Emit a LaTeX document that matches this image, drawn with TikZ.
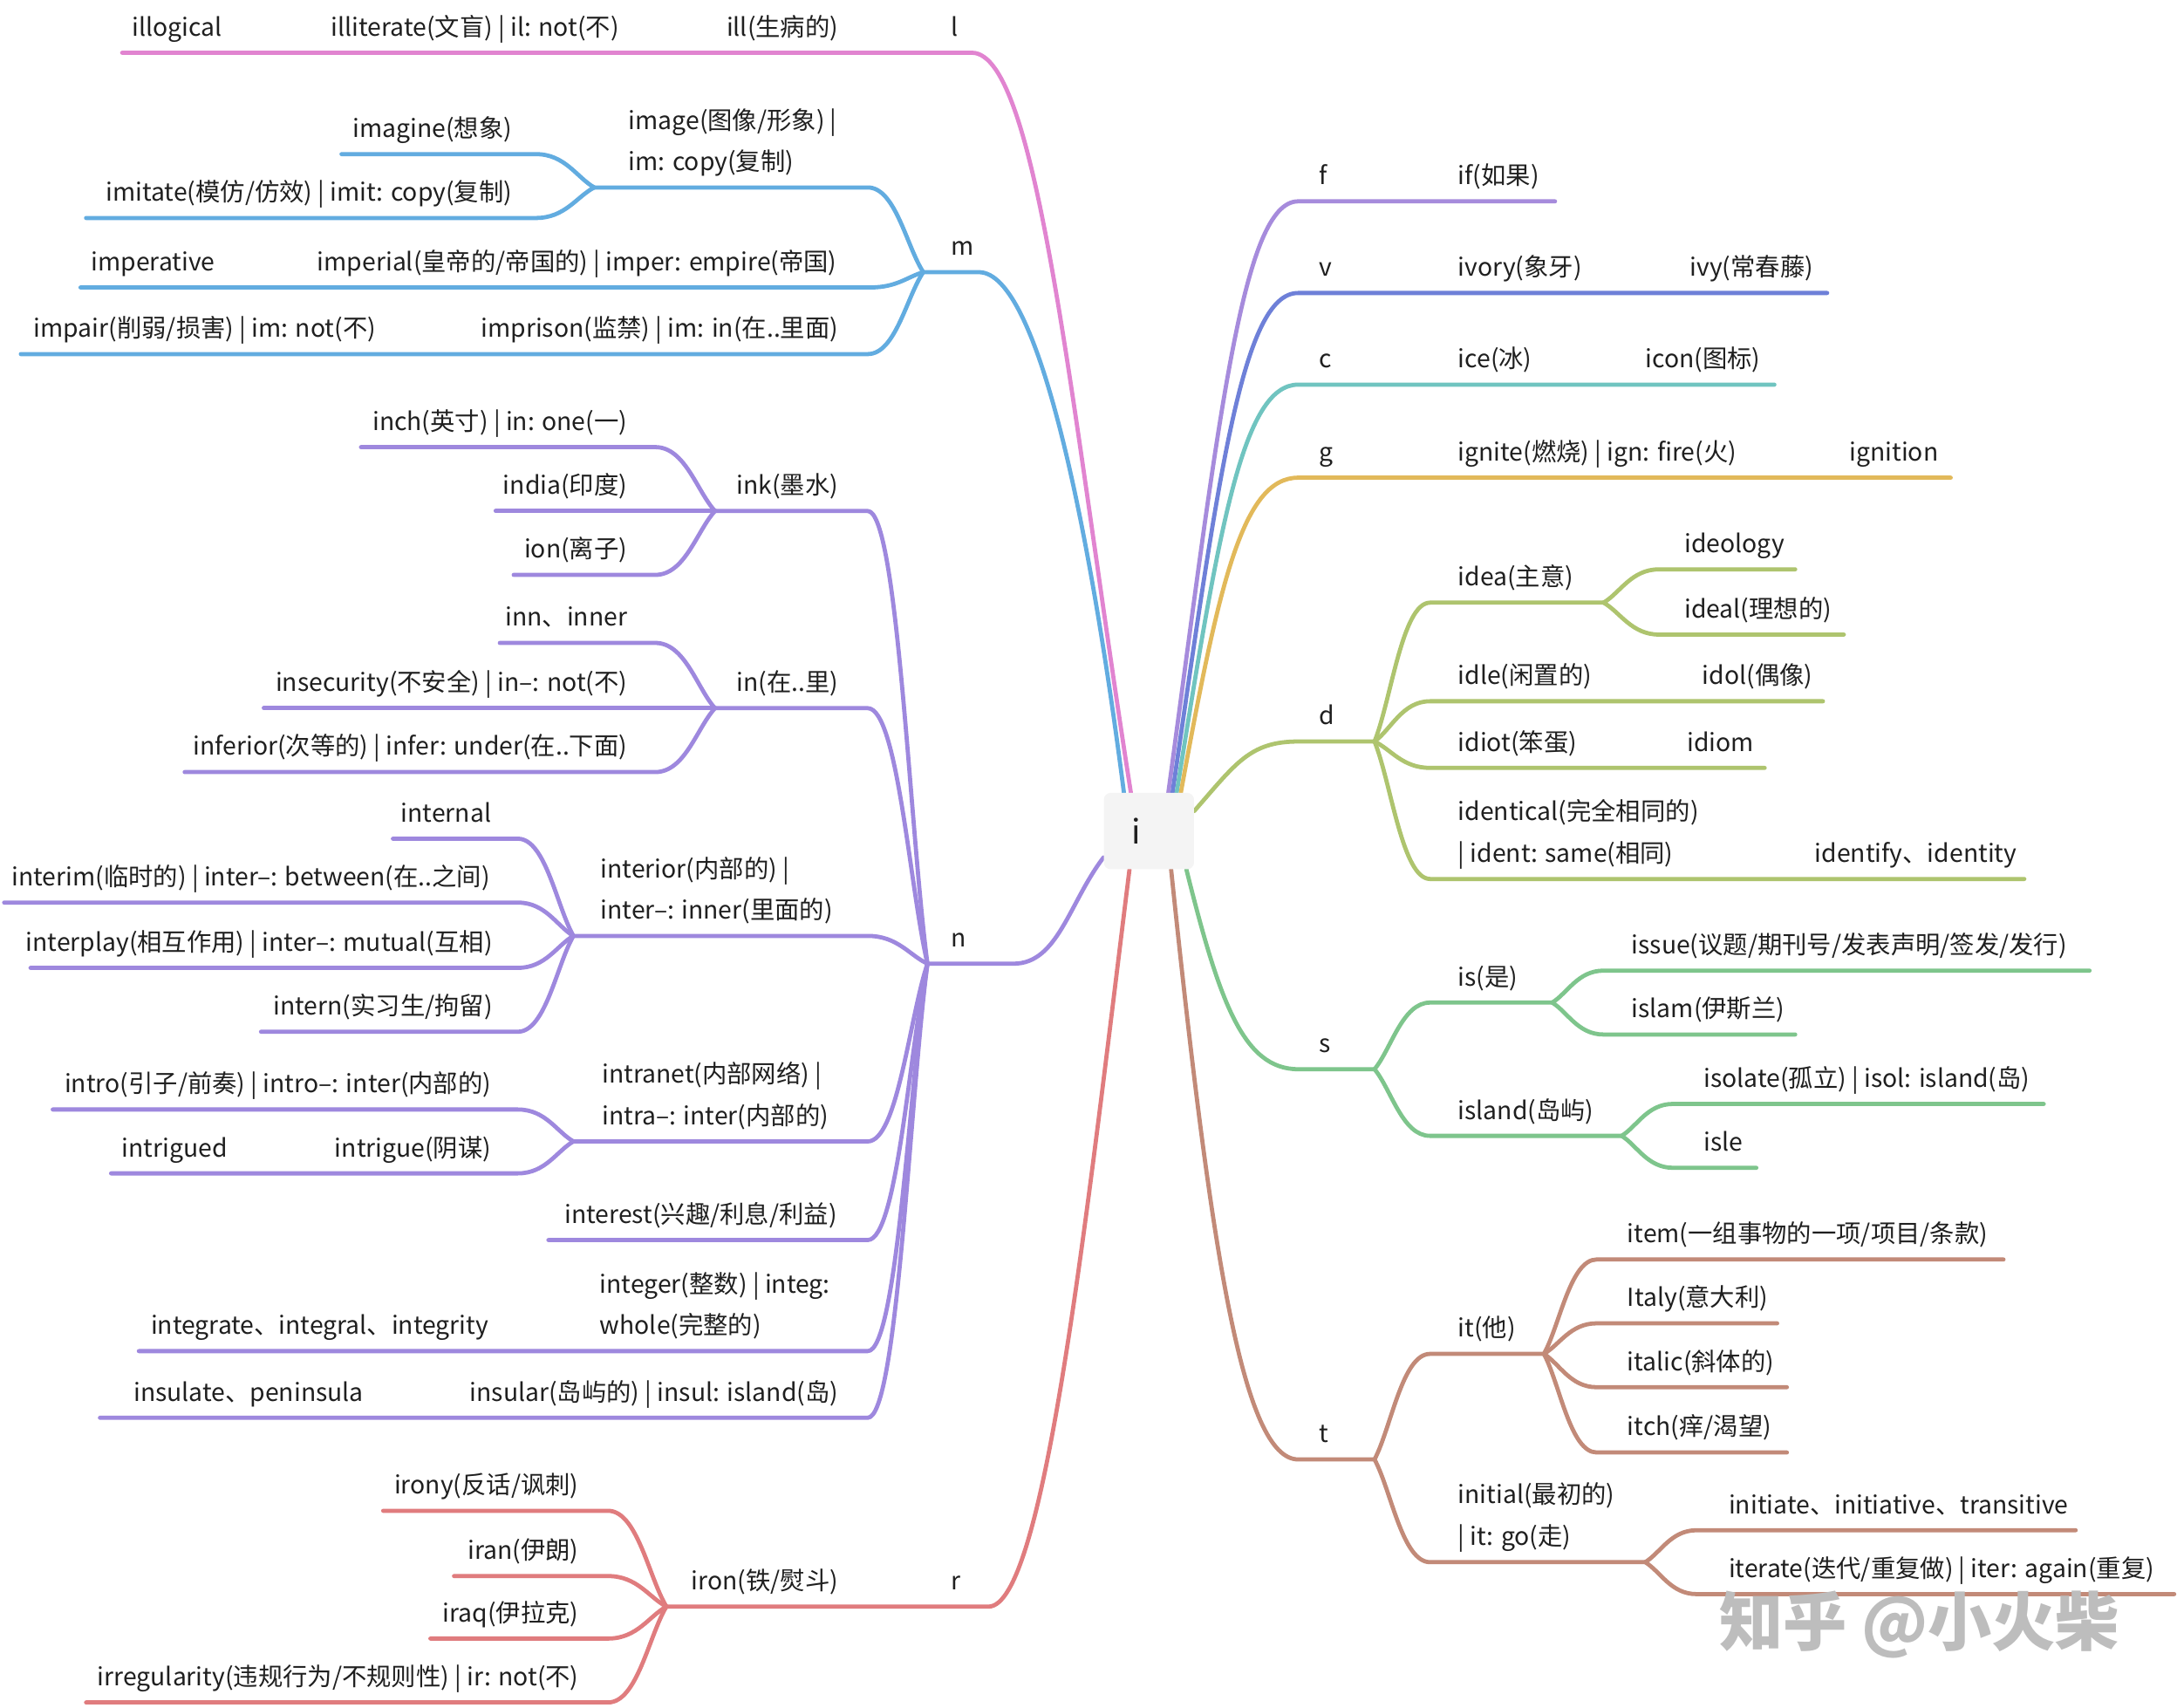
\documentclass[tikz,border=0pt]{standalone}
\usepackage{fontspec}
\setmainfont{Noto Sans CJK SC}
\usetikzlibrary{calc,backgrounds}
\definecolor{cL}{HTML}{E184D0}
\definecolor{cM}{HTML}{62ACE0}
\definecolor{cN}{HTML}{9E88DE}
\definecolor{cR}{HTML}{E07C7E}
\definecolor{cF}{HTML}{A68BDC}
\definecolor{cV}{HTML}{6E80D8}
\definecolor{cC}{HTML}{70C4C0}
\definecolor{cG}{HTML}{E2B95A}
\definecolor{cD}{HTML}{AEC46E}
\definecolor{cS}{HTML}{7EC58C}
\definecolor{cT}{HTML}{C28A78}
\definecolor{boxc}{HTML}{F4F4F4}
\definecolor{txtc}{HTML}{1F1F1F}
\definecolor{wm}{HTML}{BDBDBD}
\newcommand\mysub[5]{%
  \coordinate (#3c) at #4;
  \coordinate (#3e) at #5;
  \draw[ln,#1] (#2) .. controls ($(#2)!0.3!(#3c)$) and ($(#3c)!0.5!(#2 |- #3c)$) .. (#3c) -- (#3e);}
\newcommand\twol[2]{\begin{tabular}[b]{@{}l@{}}#1\\#2\end{tabular}}
\begin{document}
\begin{tikzpicture}[x=1pt,y=-1pt,
  ln/.style={line width=3pt,line cap=round,line join=round},
  lbl/.style={inner sep=0pt,text=txtc,font=\fontsize{17.8}{30}\selectfont},
  tl/.style={lbl,anchor=base west},
  tr/.style={lbl,anchor=base east}]
\useasboundingbox (0,0) rectangle (1568,1230);
\node[fill=boxc,rounded corners=5pt,minimum width=65pt,minimum height=55pt,inner sep=0pt,text=txtc,font=\fontsize{24}{28}\selectfont] (ctr) at (827.5,598.5) {i\hspace*{18pt}};

\begin{scope}[on background layer]
\fill[white] (0,0) rectangle (1568,1230);
% main branches left
\draw[ln,cL] ($(ctr.north)+(-13,0)$) .. controls (772,300) and (748,38) .. (700,38) coordinate (lC) -- (88,38) coordinate (lE);
\draw[ln,cM] ($(ctr.north)+(-18,0)$) .. controls (785,380) and (748,196) .. (705,196) coordinate (mC) -- (665,196) coordinate (Jm);
\draw[ln,cN] ($(ctr.west)+(0,19)$) .. controls (770,650) and (762,694) .. (730,694) coordinate (nC) -- (668,694) coordinate (Jn);
\draw[ln,cR] ($(ctr.south)+(-14,0)$) .. controls (782,880) and (752,1157) .. (712,1157) coordinate (rC) -- (480,1157) coordinate (Jr);
% main branches right
\draw[ln,cF] ($(ctr.north)+(14,0)$) .. controls (878,300) and (895,145) .. (935,145) coordinate (fC) -- (1120,145) coordinate (fE);
\draw[ln,cV] ($(ctr.north)+(17,0)$) .. controls (878,340) and (895,211) .. (935,211) coordinate (vC) -- (1316,211) coordinate (vE);
\draw[ln,cC] ($(ctr.north)+(20,0)$) .. controls (878,380) and (895,277) .. (935,277) coordinate (cC) -- (1278,277) coordinate (cE);
\draw[ln,cG] ($(ctr.north)+(23,0)$) .. controls (878,420) and (895,344) .. (935,344) coordinate (gC) -- (1405,344) coordinate (gE);
\draw[ln,cD] ($(ctr.east)+(0,-14.5)$) .. controls (890,550) and (900,534) .. (935,534) coordinate (dC) -- (990,534) coordinate (Jd);
\draw[ln,cS] ($(ctr.south)+(27,0)$) .. controls (878,720) and (895,770) .. (935,770) coordinate (sC) -- (990,770) coordinate (Js);
\draw[ln,cT] ($(ctr.south)+(16,0)$) .. controls (872,900) and (895,1051) .. (935,1051) coordinate (tC) -- (990,1051) coordinate (Jt);
% m
\mysub{cM}{Jm}{ma}{(625,135)}{(428,135)}
\mysub{cM}{mae}{mb}{(386,111)}{(246,111)}
\mysub{cM}{mae}{mc}{(386,157)}{(62,157)}
\mysub{cM}{Jm}{md}{(627,207)}{(58,207)}
\mysub{cM}{Jm}{me}{(625,255)}{(15,255)}
% n
\mysub{cN}{Jn}{na}{(625,368)}{(515,368)}
\mysub{cN}{nae}{nb}{(472,322)}{(260,322)}
\mysub{cN}{nae}{nc}{(472,368)}{(357,368)}
\mysub{cN}{nae}{nd}{(472,414)}{(370,414)}
\mysub{cN}{Jn}{ne}{(625,510)}{(515,510)}
\mysub{cN}{nee}{nf}{(472,463)}{(360,463)}
\mysub{cN}{nee}{ng}{(472,510)}{(190,510)}
\mysub{cN}{nee}{nh}{(472,556)}{(133,556)}
\mysub{cN}{Jn}{ni}{(625,674)}{(413,674)}
\mysub{cN}{nie}{nj}{(373,604)}{(283,604)}
\mysub{cN}{nie}{nk}{(373,650)}{(3,650)}
\mysub{cN}{nie}{nl}{(373,697)}{(22,697)}
\mysub{cN}{nie}{nm}{(373,743)}{(188,743)}
\mysub{cN}{Jn}{nn}{(625,822)}{(413,822)}
\mysub{cN}{nne}{no}{(373,799)}{(38,799)}
\mysub{cN}{nne}{np}{(373,845)}{(80,845)}
\mysub{cN}{Jn}{nq}{(625,893)}{(395,893)}
\mysub{cN}{Jn}{nr}{(625,973)}{(100,973)}
\mysub{cN}{Jn}{ns}{(625,1021)}{(72,1021)}
% r
\mysub{cR}{Jr}{ra}{(438,1088)}{(276,1088)}
\mysub{cR}{Jr}{rb}{(438,1135)}{(327,1135)}
\mysub{cR}{Jr}{rc}{(438,1180)}{(310,1180)}
\mysub{cR}{Jr}{rd}{(438,1226)}{(62,1226)}
% d
\mysub{cD}{Jd}{da}{(1030,434)}{(1155,434)}
\mysub{cD}{dae}{db}{(1195,410)}{(1293,410)}
\mysub{cD}{dae}{dc}{(1195,457)}{(1328,457)}
\mysub{cD}{Jd}{dd}{(1030,505)}{(1313,505)}
\mysub{cD}{Jd}{de}{(1030,553)}{(1271,553)}
\mysub{cD}{Jd}{df}{(1030,633)}{(1458,633)}
% s
\mysub{cS}{Js}{sa}{(1030,722)}{(1118,722)}
\mysub{cS}{sae}{sb}{(1155,699)}{(1505,699)}
\mysub{cS}{sae}{sc}{(1155,745)}{(1293,745)}
\mysub{cS}{Js}{sd}{(1030,818)}{(1168,818)}
\mysub{cS}{sde}{se}{(1205,795)}{(1472,795)}
\mysub{cS}{sde}{sf}{(1205,841)}{(1265,841)}
% t
\mysub{cT}{Jt}{ta}{(1030,975)}{(1112,975)}
\mysub{cT}{tae}{tb}{(1150,907)}{(1443,907)}
\mysub{cT}{tae}{tc}{(1150,953)}{(1280,953)}
\mysub{cT}{tae}{td}{(1150,999)}{(1287,999)}
\mysub{cT}{tae}{te}{(1150,1046)}{(1287,1046)}
\mysub{cT}{Jt}{tf}{(1030,1125)}{(1185,1125)}
\mysub{cT}{tfe}{tg}{(1222,1102)}{(1495,1102)}
\mysub{cT}{tfe}{th}{(1222,1148)}{(1566,1148)}
\end{scope}

% ---- left texts
\node[tl] (kl) at (685,26) {l};
\node[tr] (kill) at (604,26) {ill(生病的)};
\node[tr] (killit) at (446,26) {illiterate(文盲) | il: not(不)};
\node[tr] (killog) at (160,26) {illogical};

\node[tl] (km) at (685,184) {m};
\node[tr] (kimage) at (603,123) {\twol{image(图像/形象) |}{im: copy(复制)}};
\node[tr] (kimagine) at (369,99) {imagine(想象)};
\node[tr] (kimitate) at (369,145) {imitate(模仿/仿效) | imit: copy(复制)};
\node[tr] (kimperial) at (603,195) {imperial(皇帝的/帝国的) | imper: empire(帝国)};
\node[tr] (kimperative) at (155,195) {imperative};
\node[tr] (kimprison) at (604,243) {imprison(监禁) | im: in(在..里面)};
\node[tr] (kimpair) at (271,243) {impair(削弱/损害) | im: not(不)};

\node[tl] (kn) at (685,682) {n};
\node[tr] (kink) at (604,356) {ink(墨水)};
\node[tr] (kinch) at (452,310) {inch(英寸) | in: one(一)};
\node[tr] (kindia) at (452,356) {india(印度)};
\node[tr] (kion) at (452,402) {ion(离子)};
\node[tr] (kin) at (604,498) {in(在..里)};
\node[tr] (kinn) at (452,451) {inn、inner};
\node[tr] (kinsec) at (452,498) {insecurity(不安全) | in–: not(不)};
\node[tr] (kinfer) at (452,544) {inferior(次等的) | infer: under(在..下面)};
\node[tr] (kinterior) at (600,662) {\twol{interior(内部的) |}{inter–: inner(里面的)}};
\node[tr] (kinternal) at (354,592) {internal};
\node[tr] (kinterim) at (353,638) {interim(临时的) | inter–: between(在..之间)};
\node[tr] (kinterplay) at (355,685) {interplay(相互作用) | inter–: mutual(互相)};
\node[tr] (kintern) at (355,731) {intern(实习生/拘留)};
\node[tr] (kintranet) at (597,810) {\twol{intranet(内部网络) |}{intra–: inter(内部的)}};
\node[tr] (kintro) at (354,787) {intro(引子/前奏) | intro–: inter(内部的)};
\node[tr] (kintrigue) at (354,833) {intrigue(阴谋)};
\node[tr] (kintrigued) at (164,833) {intrigued};
\node[tr] (kinterest) at (603,881) {interest(兴趣/利息/利益)};
\node[tr] (kinteger) at (598,961) {\twol{integer(整数) | integ:}{whole(完整的)}};
\node[tr] (kintegrate) at (352,961) {integrate、integral、integrity};
\node[tr] (kinsular) at (604,1009) {insular(岛屿的) | insul: island(岛)};
\node[tr] (kinsulate) at (262,1009) {insulate、peninsula};

\node[tl] (kr) at (685,1145) {r};
\node[tr] (kiron) at (604,1145) {iron(铁/熨斗)};
\node[tr] (kirony) at (417,1076) {irony(反话/讽刺)};
\node[tr] (kiran) at (417,1123) {iran(伊朗)};
\node[tr] (kiraq) at (417,1168) {iraq(伊拉克)};
\node[tr] (kirreg) at (417,1214) {irregularity(违规行为/不规则性) | ir: not(不)};

% ---- right texts
\node[tl] (kf) at (950,133) {f};
\node[tl] (kif) at (1050,133) {if(如果)};
\node[tl] (kv) at (950,199) {v};
\node[tl] (kivory) at (1050,199) {ivory(象牙)};
\node[tl] (kivy) at (1217,199) {ivy(常春藤)};
\node[tl] (kc) at (950,265) {c};
\node[tl] (kice) at (1050,265) {ice(冰)};
\node[tl] (kicon) at (1185,265) {icon(图标)};
\node[tl] (kg) at (950,332) {g};
\node[tl] (kignite) at (1050,332) {ignite(燃烧) | ign: fire(火)};
\node[tl] (kignition) at (1332,332) {ignition};
\node[tl] (kd) at (950,522) {d};
\node[tl] (kidea) at (1050,422) {idea(主意)};
\node[tl] (kideology) at (1213,398) {ideology};
\node[tl] (kideal) at (1213,445) {ideal(理想的)};
\node[tl] (kidle) at (1050,493) {idle(闲置的)};
\node[tl] (kidol) at (1226,493) {idol(偶像)};
\node[tl] (kidiot) at (1050,541) {idiot(笨蛋)};
\node[tl] (kidiom) at (1215,541) {idiom};
\node[tl] (kidentical) at (1050,621) {\twol{identical(完全相同的)}{| ident: same(相同)}};
\node[tl] (kidentify) at (1307,621) {identify、identity};
\node[tl] (ks) at (950,758) {s};
\node[tl] (kis) at (1050,710) {is(是)};
\node[tl] (kissue) at (1175,687) {issue(议题/期刊号/发表声明/签发/发行)};
\node[tl] (kislam) at (1175,733) {islam(伊斯兰)};
\node[tl] (kisland) at (1050,806) {island(岛屿)};
\node[tl] (kisolate) at (1227,783) {isolate(孤立) | isol: island(岛)};
\node[tl] (kisle) at (1227,829) {isle};
\node[tl] (kt) at (950,1039) {t};
\node[tl] (kit) at (1050,963) {it(他)};
\node[tl] (kitem) at (1172,895) {item(一组事物的一项/项目/条款)};
\node[tl] (kitaly) at (1172,941) {Italy(意大利)};
\node[tl] (kitalic) at (1172,987) {italic(斜体的)};
\node[tl] (kitch) at (1172,1034) {itch(痒/渴望)};
\node[tl] (kinitial) at (1050,1113) {\twol{initial(最初的)}{| it: go(走)}};
\node[tl] (kinitiate) at (1245,1090) {initiate、initiative、transitive};
\node[tl] (kiterate) at (1245,1136) {iterate(迭代/重复做) | iter: again(重复)};

\node[anchor=base west,inner sep=0pt,text=wm,font=\fontsize{46}{50}\selectfont\bfseries] (kwm) at (1238,1185) {知乎 @小火柴};
\end{tikzpicture}
\end{document}
